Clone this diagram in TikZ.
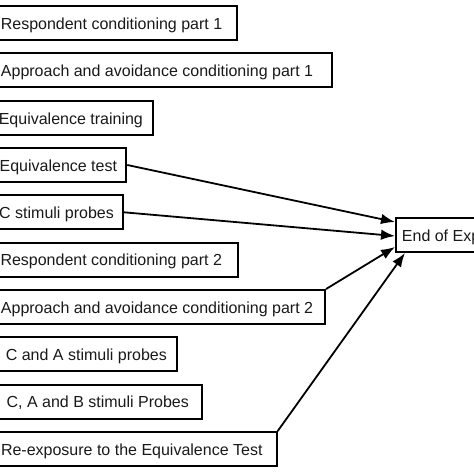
\documentclass[tikz,border=0pt]{standalone}
\usepackage{fontspec}
\setmainfont{Liberation Sans}
\usetikzlibrary{arrows.meta}
\begin{document}
\begin{tikzpicture}[x=1pt,y=-1pt,
  every node/.style={font=\fontsize{16pt}{19pt}\selectfont, text=black!90},
  stagebox/.style={draw, line width=1.9pt, inner sep=0pt, minimum height=34pt,
    text height=16pt, text depth=3.4pt, anchor=east},
  conn/.style={line width=1.8pt, -{Latex[length=14pt,width=10.5pt]}}]
\useasboundingbox (0,0) rectangle (474,474);
\clip (0,0) rectangle (474,474);
\node[stagebox, minimum width=251pt] (b1) at (238,23) {Respondent conditioning part 1};
\node[stagebox, minimum width=350pt] (b2) at (333,70.4) {Approach and avoidance conditioning part 1};
\node[stagebox, minimum width=165pt] (b3) at (154.3,117.7) {Equivalence training};
\node[stagebox, minimum width=136pt] (b4) at (127.3,165) {Equivalence test};
\node[stagebox, minimum width=133pt] (b5) at (124,212.3) {C stimuli probes};
\node[stagebox, minimum width=253pt] (b6) at (238.7,259.6) {Respondent conditioning part 2};
\node[stagebox, minimum width=336pt] (b7) at (326,307) {Approach and avoidance conditioning part 2};
\node[stagebox, minimum width=182pt] (b8) at (178.3,354.3) {C and A stimuli probes};
\node[stagebox, minimum width=208pt] (b9) at (202.7,401.6) {C, A and B stimuli Probes};
\node[stagebox, minimum width=290pt] (b10) at (277.7,449) {Re-exposure to the Equivalence Test};
\node[stagebox, anchor=west, inner xsep=6pt] (end) at (395,235) {End of Experiment};
\draw[conn] (b4.east) -- ([yshift=13pt]end.west);
\draw[conn] (b5.east) -- ([yshift=-1pt]end.west);
\draw[conn] (b7.north east) -- ([yshift=-12pt]end.west);
\draw[conn] (b10.north east) -- ([xshift=10pt]end.south west);
\end{tikzpicture}
\end{document}
